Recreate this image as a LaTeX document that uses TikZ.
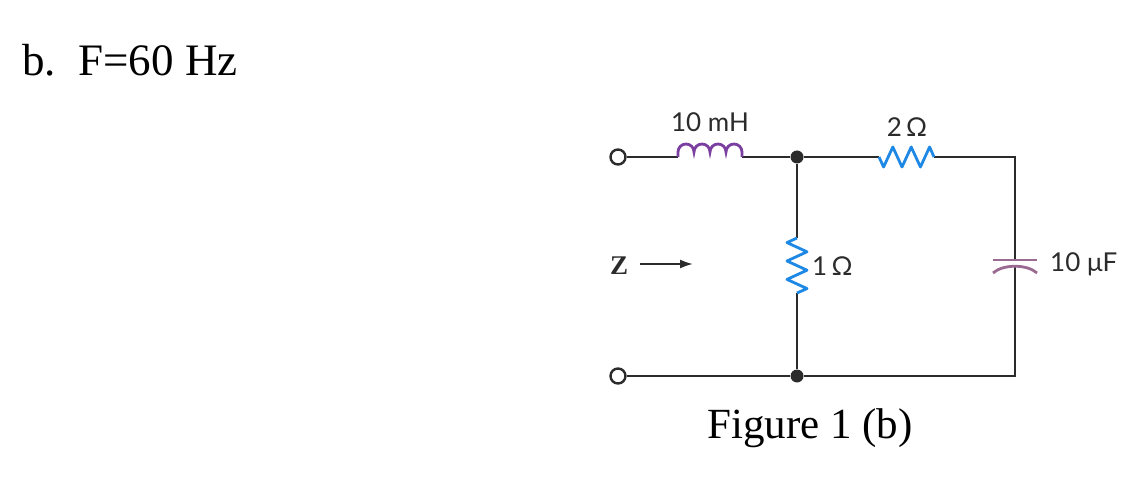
\documentclass[tikz,border=0pt]{standalone}
\usepackage{fontspec}
\setmainfont{Liberation Serif}
\newfontfamily\lbl{Lato}
\usetikzlibrary{arrows.meta}
\definecolor{wire}{HTML}{2B2B2B}
\definecolor{indc}{HTML}{7A3FA0}
\definecolor{resc}{HTML}{1E88E5}
\definecolor{capc}{HTML}{9A6A90}
\begin{document}
\begin{tikzpicture}[x=1pt,y=-1pt,
  w/.style={draw=wire,line width=2.8pt},
  term/.style={circle,draw=wire,line width=2.4pt,fill=white,inner sep=0pt,minimum size=15pt},
  dot/.style={circle,fill=wire,inner sep=0pt,minimum size=13pt},
  clab/.style={font=\lbl\fontsize{26}{28}\selectfont,text=wire,inner sep=0pt}]
\useasboundingbox (0,0) rectangle (1138,486);
\node[anchor=west,font=\fontsize{45}{48}\selectfont,inner sep=0pt] (title) at (22,60) {b.\ \ F=60 Hz};
\node[font=\fontsize{43}{46}\selectfont] (fig) at (810,428) {Figure 1 (b)};
% nodes
\node[term] (t1) at (618,157) {};
\node[term] (t2) at (618,376) {};
\node[dot] (j1) at (797,157) {};
\node[dot] (j2) at (797,376) {};
\coordinate (c1) at (1015,157);
\coordinate (c2) at (1015,376);
\coordinate (l1) at (678,157); \coordinate (l2) at (742,157);
\coordinate (r1) at (879,157); \coordinate (r2) at (934,157);
\coordinate (v1) at (797,238); \coordinate (v2) at (797,293);
\coordinate (k1) at (1015,260); \coordinate (k2) at (1015,267);
\coordinate (pa) at (993,260); \coordinate (pb) at (1037,260);
% wires
\draw[w] (t1) -- (l1);
\draw[w] (l2) -- (j1) -- (r1);
\draw[w] (r2) -- (c1) -- (k1);
\draw[w] (k2) -- (c2) -- (j2) -- (t2);
\draw[w] (j1) -- (v1); \draw[w] (v2) -- (j2);
% inductor
\draw[indc,line width=2.8pt] (l1) -- ++(0,-5)
  arc[start angle=180,end angle=360,radius=8] arc[start angle=180,end angle=360,radius=8]
  arc[start angle=180,end angle=360,radius=8] arc[start angle=180,end angle=360,radius=8] -- (l2);
% 2 ohm
\draw[resc,line width=2.8pt,line join=round] (r1) -- ++(4.6,10) -- ++(9.2,-20) -- ++(9.2,20) -- ++(9.2,-20) -- ++(9.2,20) -- ++(9.2,-20) -- (r2);
% 1 ohm
\draw[resc,line width=2.8pt,line join=round] (v1) -- ++(-10,4.6) -- ++(20,9.2) -- ++(-20,9.2) -- ++(20,9.2) -- ++(-20,9.2) -- ++(20,9.2) -- (v2);
% capacitor
\draw[capc,line width=2.8pt] (pa) -- (pb);
\draw[capc,line width=2.8pt] (993,273) .. controls (1003,264) and (1027,264) .. (1037,273);
% labels
\node[clab] (lL) at (710,122) {10 mH};
\node[clab] (lR) at (907,127) {2\,Ω};
\node[clab,anchor=west] (lV) at (812,266) {1\,Ω};
\node[clab,anchor=west] (lC) at (1050,264) {10 μF};
\node[font=\bfseries\fontsize{27}{29}\selectfont,text=wire] (Z) at (619,266) {Z};
\coordinate (a1) at (640,264); \coordinate (a2) at (693,264);
\draw[wire,line width=2pt,-{Latex[length=13pt,width=9pt]}] (a1) -- (a2);
\end{tikzpicture}
\end{document}
